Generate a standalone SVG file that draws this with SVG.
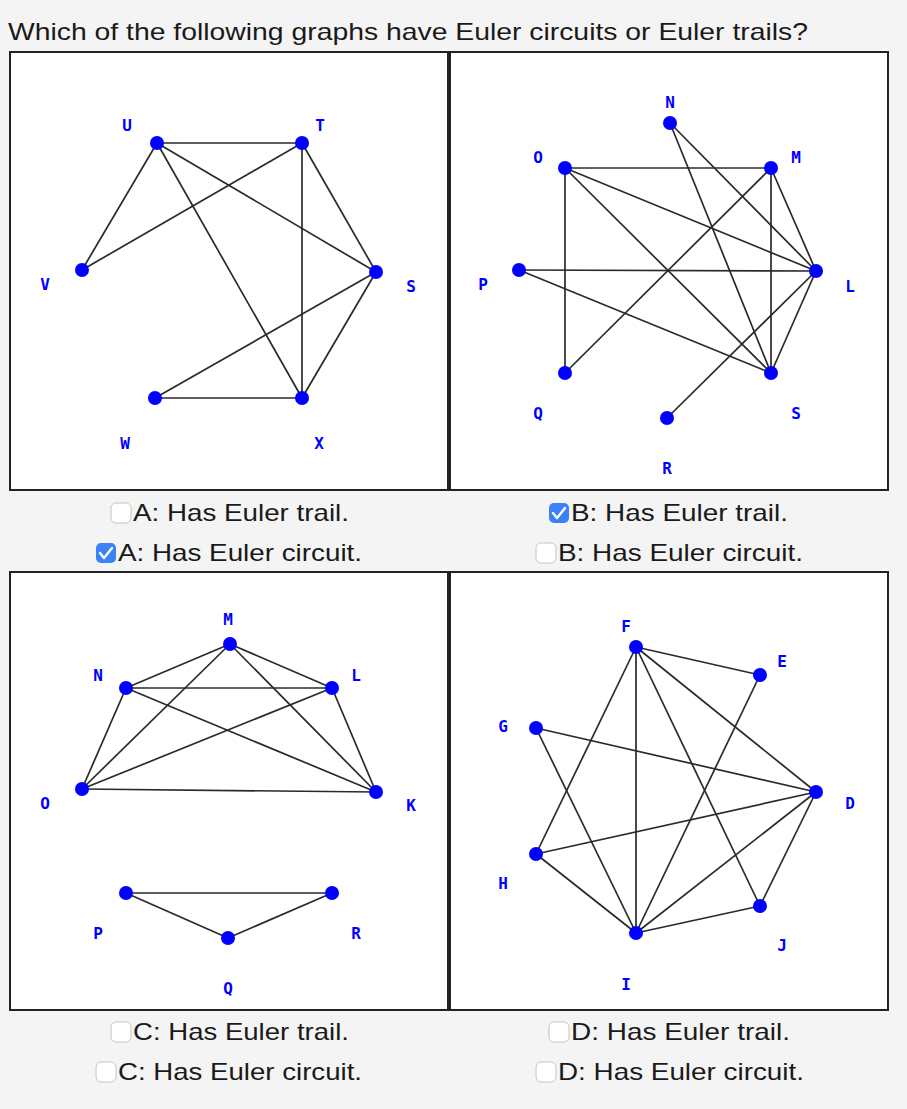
<svg xmlns="http://www.w3.org/2000/svg" width="907" height="1109" viewBox="0 0 907 1109">
<style>
.bg{fill:#f4f4f4}
.panel{fill:#fff;stroke:#222;stroke-width:2}
.e line{stroke:#2a2a2a;stroke-width:1.7}
.n{fill:#0000ff}
.lb{font-family:"DejaVu Sans Mono",monospace;font-weight:bold;font-size:16px;fill:#0000ff;text-anchor:middle}
.t{font-family:"Liberation Sans",Arial,sans-serif;font-size:24px;fill:#1a1a1a}
.cb{fill:#fff;stroke:#c4c4c4;stroke-width:1}
.cbc{fill:#3b82f6}
.ck{fill:none;stroke:#fff;stroke-width:2.4;stroke-linecap:round;stroke-linejoin:round}
</style>
<rect class="bg" width="907" height="1109"/>
<text class="t" x="8" y="40" textLength="800" lengthAdjust="spacingAndGlyphs">Which of the following graphs have Euler circuits or Euler trails?</text>
<rect class="panel" x="10" y="52" width="438" height="438"/>
<rect class="panel" x="450" y="52" width="438" height="438"/>
<rect class="panel" x="10" y="572" width="438" height="438"/>
<rect class="panel" x="450" y="572" width="438" height="438"/>

<g id="connectors" class="e">
<!-- A -->
<line x1="157" y1="143" x2="302" y2="143"/><line x1="157" y1="143" x2="82" y2="270"/>
<line x1="157" y1="143" x2="376" y2="272"/><line x1="157" y1="143" x2="302" y2="398"/>
<line x1="302" y1="143" x2="82" y2="270"/><line x1="302" y1="143" x2="302" y2="398"/>
<line x1="302" y1="143" x2="376" y2="272"/><line x1="376" y1="272" x2="155" y2="398"/>
<line x1="376" y1="272" x2="302" y2="398"/><line x1="155" y1="398" x2="302" y2="398"/>
<!-- B -->
<line x1="565" y1="168" x2="771" y2="168"/><line x1="565" y1="168" x2="565" y2="373"/>
<line x1="565" y1="168" x2="816" y2="271"/><line x1="565" y1="168" x2="771" y2="373"/>
<line x1="519" y1="270" x2="816" y2="271"/><line x1="519" y1="270" x2="771" y2="373"/>
<line x1="670" y1="123" x2="816" y2="271"/><line x1="670" y1="123" x2="771" y2="373"/>
<line x1="771" y1="168" x2="565" y2="373"/><line x1="771" y1="168" x2="771" y2="373"/>
<line x1="771" y1="168" x2="816" y2="271"/><line x1="816" y1="271" x2="771" y2="373"/>
<line x1="816" y1="271" x2="667" y2="418"/>
<!-- C -->
<line x1="230" y1="644" x2="126" y2="688"/><line x1="230" y1="644" x2="332" y2="688"/>
<line x1="230" y1="644" x2="82" y2="789"/><line x1="230" y1="644" x2="376" y2="792"/>
<line x1="126" y1="688" x2="332" y2="688"/><line x1="126" y1="688" x2="82" y2="789"/>
<line x1="126" y1="688" x2="376" y2="792"/><line x1="332" y1="688" x2="82" y2="789"/>
<line x1="332" y1="688" x2="376" y2="792"/><line x1="82" y1="789" x2="376" y2="792"/>
<line x1="126" y1="893" x2="332" y2="893"/><line x1="126" y1="893" x2="228" y2="938"/>
<line x1="228" y1="938" x2="332" y2="893"/>
<!-- D -->
<line x1="636" y1="647" x2="760" y2="675"/><line x1="636" y1="647" x2="536" y2="854"/>
<line x1="636" y1="647" x2="636" y2="933"/><line x1="636" y1="647" x2="760" y2="906"/>
<line x1="636" y1="647" x2="816" y2="792"/><line x1="760" y1="675" x2="636" y2="933"/>
<line x1="536" y1="728" x2="816" y2="792"/><line x1="536" y1="728" x2="636" y2="933"/>
<line x1="536" y1="854" x2="816" y2="792"/><line x1="536" y1="854" x2="636" y2="933"/>
<line x1="636" y1="933" x2="760" y2="906"/><line x1="636" y1="933" x2="816" y2="792"/>
<line x1="816" y1="792" x2="760" y2="906"/>
</g>

<g id="graphA">
<g id="A-U"><circle class="n" cx="157" cy="143" r="7"/><text class="lb" x="127" y="131">U</text></g>
<g id="A-T"><circle class="n" cx="302" cy="143" r="7"/><text class="lb" x="320" y="131">T</text></g>
<g id="A-V"><circle class="n" cx="82" cy="270" r="7"/><text class="lb" x="45" y="290">V</text></g>
<g id="A-S"><circle class="n" cx="376" cy="272" r="7"/><text class="lb" x="411" y="292">S</text></g>
<g id="A-W"><circle class="n" cx="155" cy="398" r="7"/><text class="lb" x="125" y="449">W</text></g>
<g id="A-X"><circle class="n" cx="302" cy="398" r="7"/><text class="lb" x="319" y="449">X</text></g>
</g>
<g id="graphB">
<g id="B-N"><circle class="n" cx="670" cy="123" r="7"/><text class="lb" x="670" y="108">N</text></g>
<g id="B-O"><circle class="n" cx="565" cy="168" r="7"/><text class="lb" x="538" y="163">O</text></g>
<g id="B-M"><circle class="n" cx="771" cy="168" r="7"/><text class="lb" x="796" y="163">M</text></g>
<g id="B-P"><circle class="n" cx="519" cy="270" r="7"/><text class="lb" x="483" y="290">P</text></g>
<g id="B-L"><circle class="n" cx="816" cy="271" r="7"/><text class="lb" x="850" y="292">L</text></g>
<g id="B-Q"><circle class="n" cx="565" cy="373" r="7"/><text class="lb" x="538" y="419">Q</text></g>
<g id="B-S"><circle class="n" cx="771" cy="373" r="7"/><text class="lb" x="796" y="419">S</text></g>
<g id="B-R"><circle class="n" cx="667" cy="418" r="7"/><text class="lb" x="667" y="474">R</text></g>
</g>
<g id="graphC">
<g id="C-M"><circle class="n" cx="230" cy="644" r="7"/><text class="lb" x="228" y="625">M</text></g>
<g id="C-N"><circle class="n" cx="126" cy="688" r="7"/><text class="lb" x="98" y="681">N</text></g>
<g id="C-L"><circle class="n" cx="332" cy="688" r="7"/><text class="lb" x="356" y="681">L</text></g>
<g id="C-O"><circle class="n" cx="82" cy="789" r="7"/><text class="lb" x="45" y="809">O</text></g>
<g id="C-K"><circle class="n" cx="376" cy="792" r="7"/><text class="lb" x="411" y="811">K</text></g>
<g id="C-P"><circle class="n" cx="126" cy="893" r="7"/><text class="lb" x="98" y="939">P</text></g>
<g id="C-R"><circle class="n" cx="332" cy="893" r="7"/><text class="lb" x="356" y="939">R</text></g>
<g id="C-Q"><circle class="n" cx="228" cy="938" r="7"/><text class="lb" x="228" y="994">Q</text></g>
</g>
<g id="graphD">
<g id="D-F"><circle class="n" cx="636" cy="647" r="7"/><text class="lb" x="626" y="632">F</text></g>
<g id="D-E"><circle class="n" cx="760" cy="675" r="7"/><text class="lb" x="782" y="667">E</text></g>
<g id="D-G"><circle class="n" cx="536" cy="728" r="7"/><text class="lb" x="503" y="732">G</text></g>
<g id="D-D"><circle class="n" cx="816" cy="792" r="7"/><text class="lb" x="850" y="809">D</text></g>
<g id="D-H"><circle class="n" cx="536" cy="854" r="7"/><text class="lb" x="503" y="889">H</text></g>
<g id="D-J"><circle class="n" cx="760" cy="906" r="7"/><text class="lb" x="782" y="951">J</text></g>
<g id="D-I"><circle class="n" cx="636" cy="933" r="7"/><text class="lb" x="626" y="990">I</text></g>
</g>

<g id="answers">
<rect class="cb" x="111" y="503" width="20" height="20" rx="5"/><text class="t" x="133" y="521" textLength="216" lengthAdjust="spacingAndGlyphs">A: Has Euler trail.</text>
<rect class="cbc" x="96" y="543" width="20" height="20" rx="5"/><path class="ck" d="M100 553 l4 5 l8 -10"/><text class="t" x="118" y="561" textLength="244" lengthAdjust="spacingAndGlyphs">A: Has Euler circuit.</text>
<rect class="cbc" x="549" y="503" width="20" height="20" rx="5"/><path class="ck" d="M553 513 l4 5 l8 -10"/><text class="t" x="571" y="521" textLength="217" lengthAdjust="spacingAndGlyphs">B: Has Euler trail.</text>
<rect class="cb" x="536" y="543" width="20" height="20" rx="5"/><text class="t" x="558" y="561" textLength="245" lengthAdjust="spacingAndGlyphs">B: Has Euler circuit.</text>
<rect class="cb" x="111" y="1022" width="20" height="20" rx="5"/><text class="t" x="133" y="1040" textLength="216" lengthAdjust="spacingAndGlyphs">C: Has Euler trail.</text>
<rect class="cb" x="96" y="1062" width="20" height="20" rx="5"/><text class="t" x="118" y="1080" textLength="244" lengthAdjust="spacingAndGlyphs">C: Has Euler circuit.</text>
<rect class="cb" x="549" y="1022" width="20" height="20" rx="5"/><text class="t" x="571" y="1040" textLength="219" lengthAdjust="spacingAndGlyphs">D: Has Euler trail.</text>
<rect class="cb" x="536" y="1062" width="20" height="20" rx="5"/><text class="t" x="558" y="1080" textLength="246" lengthAdjust="spacingAndGlyphs">D: Has Euler circuit.</text>
</g>
</svg>
